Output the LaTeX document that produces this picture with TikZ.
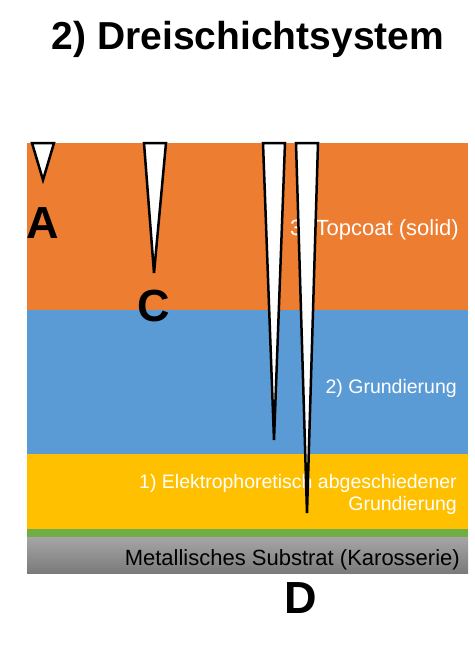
\documentclass[tikz,border=0pt]{standalone}
\usepackage{fontspec}
\setmainfont{Liberation Sans}
\usetikzlibrary{calc}
\definecolor{topcoat}{HTML}{ED7D31}
\definecolor{primer}{HTML}{5B9BD5}
\definecolor{ecoat}{HTML}{FFC000}
\definecolor{phosphat}{HTML}{70AD47}

\begin{document}
\begin{tikzpicture}[x=1pt,y=-1pt,
  layertext/.style={anchor=base east, inner sep=0, text=white, font=\fontsize{19.5}{22}\selectfont},
  letter/.style={anchor=base, inner sep=0, font=\fontsize{45}{50}\selectfont\bfseries}]
\useasboundingbox (0,0) rectangle (474,650);
\node[anchor=base, inner sep=0, font=\fontsize{39}{44}\selectfont\bfseries] (title) at (248,50) {2) Dreischichtsystem};
% layers
\foreach \ya/\yb/\c in {143/310/topcoat, 310/454/primer, 454/529/ecoat, 529/537/phosphat} {
 \fill[\c] (27,\ya) rectangle (468,\yb);
}
\shade[top color=black!35, bottom color=black!52] (27,537) rectangle (468,573);
\node[layertext, font=\fontsize{22}{24}\selectfont] (l3) at (459,235) {3) Topcoat (solid)};
\node[layertext] (l2) at (457,393) {2) Grundierung};
\node[layertext, align=right] (l1) at (457,510) {1) Elektrophoretisch abgeschiedener\\Grundierung};
\node[layertext, text=black, font=\fontsize{22}{24}\selectfont] (sub) at (460,565) {Metallisches Substrat (Karosserie)};
% defects
\foreach \xa/\xb/\xt/\yt in {32/54/43/180, 144/166/154/273, 263/285/274/440, 296/318/307/513} {
 \draw[black, line width=2.5pt, fill=white] (\xa,143) -- (\xb,143) -- (\xt,\yt) -- cycle;
}
\node[letter] (A) at (42.5,238) {A};
\node[letter] (C) at (154,321) {C};
\node[letter] (D) at (301,613) {D};
\end{tikzpicture}
\end{document}
